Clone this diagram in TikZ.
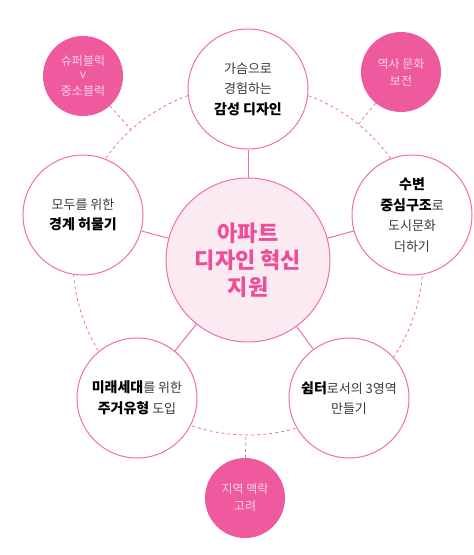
\documentclass[tikz,border=0pt]{standalone}
\usepackage{fontspec}
\setmainfont{Noto Sans CJK KR}
\usepackage{xcolor}
\usetikzlibrary{positioning,calc}
\definecolor{aptpink}{HTML}{EF5A9E}
\definecolor{aptline}{HTML}{F06EAA}
\definecolor{aptfill}{HTML}{FCEAF3}
\definecolor{apttext}{HTML}{EC4F98}
\definecolor{softpink}{HTML}{FBD3E6}
\definecolor{greytext}{HTML}{3A3A3A}
\newcommand{\kw}[1]{{\color{black}\fontsize{14}{20.5}\selectfont\bfseries #1}}

\begin{document}
\begin{tikzpicture}[
    x=1pt, y=-1pt,
    idea/.style={circle, draw=aptline, line width=1pt, fill=white, minimum size=120pt, inner sep=0pt, align=center, font=\fontsize{13}{20.5}\selectfont, text=greytext},
    hubnode/.style={circle, draw=aptline, line width=1pt, fill=aptfill, minimum size=164pt, inner sep=0pt, align=center, font=\fontsize{22}{27}\selectfont\bfseries, text=apttext},
    note/.style={circle, fill=aptpink, minimum size=80pt, inner sep=0pt, align=center, font=\fontsize{12}{17}\selectfont, text=softpink},
    link/.style={aptline, line width=1pt},
    dashlink/.style={aptline, line width=0.8pt, dash pattern=on 3pt off 3pt}
]
\useasboundingbox (0,0) rectangle (474,555);

% Dashed ring
\coordinate (c) at (248,260);
\draw[dashlink] (c) circle[radius=175pt];

% Centre
\node[hubnode] (hub) at (c) {아파트\\디자인 혁신\\지원};

% Outer ideas
\node[idea] (sense) at (248,89) {가슴으로\\경험하는\\\kw{감성 디자인}};
\node[idea] (border) at (83,215) {모두를 위한\\\kw{경계 허물기}};
\node[idea] (river) at (412,215) {\kw{수변}\\\kw{중심구조}로\\도시문화\\더하기};
\node[idea] (future) at (137,398) {\kw{미래세대}를 위한\\\kw{주거유형} 도입};
\node[idea] (shelter) at (349,398) {\kw{쉼터}로서의 3영역\\만들기};

% Notes
\node[note] (block) at (83,76) {슈퍼블럭\\[-4pt]v\\중소블럭};
\node[note] (heritage) at (401,72) {역사 문화\\보전};
\node[note] (local) at (245,498) {지역 맥락\\고려};

% Ring points
\coordinate (rblock) at ($(c)!175pt!(block)$);
\coordinate (rheritage) at ($(c)!175pt!(heritage)$);
\coordinate (rlocal) at ($(c)!175pt!(local)$);

% Links
\draw[link] (hub) -- (sense);
\draw[link] (hub) -- (border);
\draw[link] (hub) -- (river);
\draw[link] (hub) -- (future);
\draw[link] (hub) -- (shelter);
\draw[dashlink] (block) -- (rblock);
\draw[dashlink] (heritage) -- (rheritage);
\draw[dashlink] (local) -- (rlocal);

\end{tikzpicture}
\end{document}
